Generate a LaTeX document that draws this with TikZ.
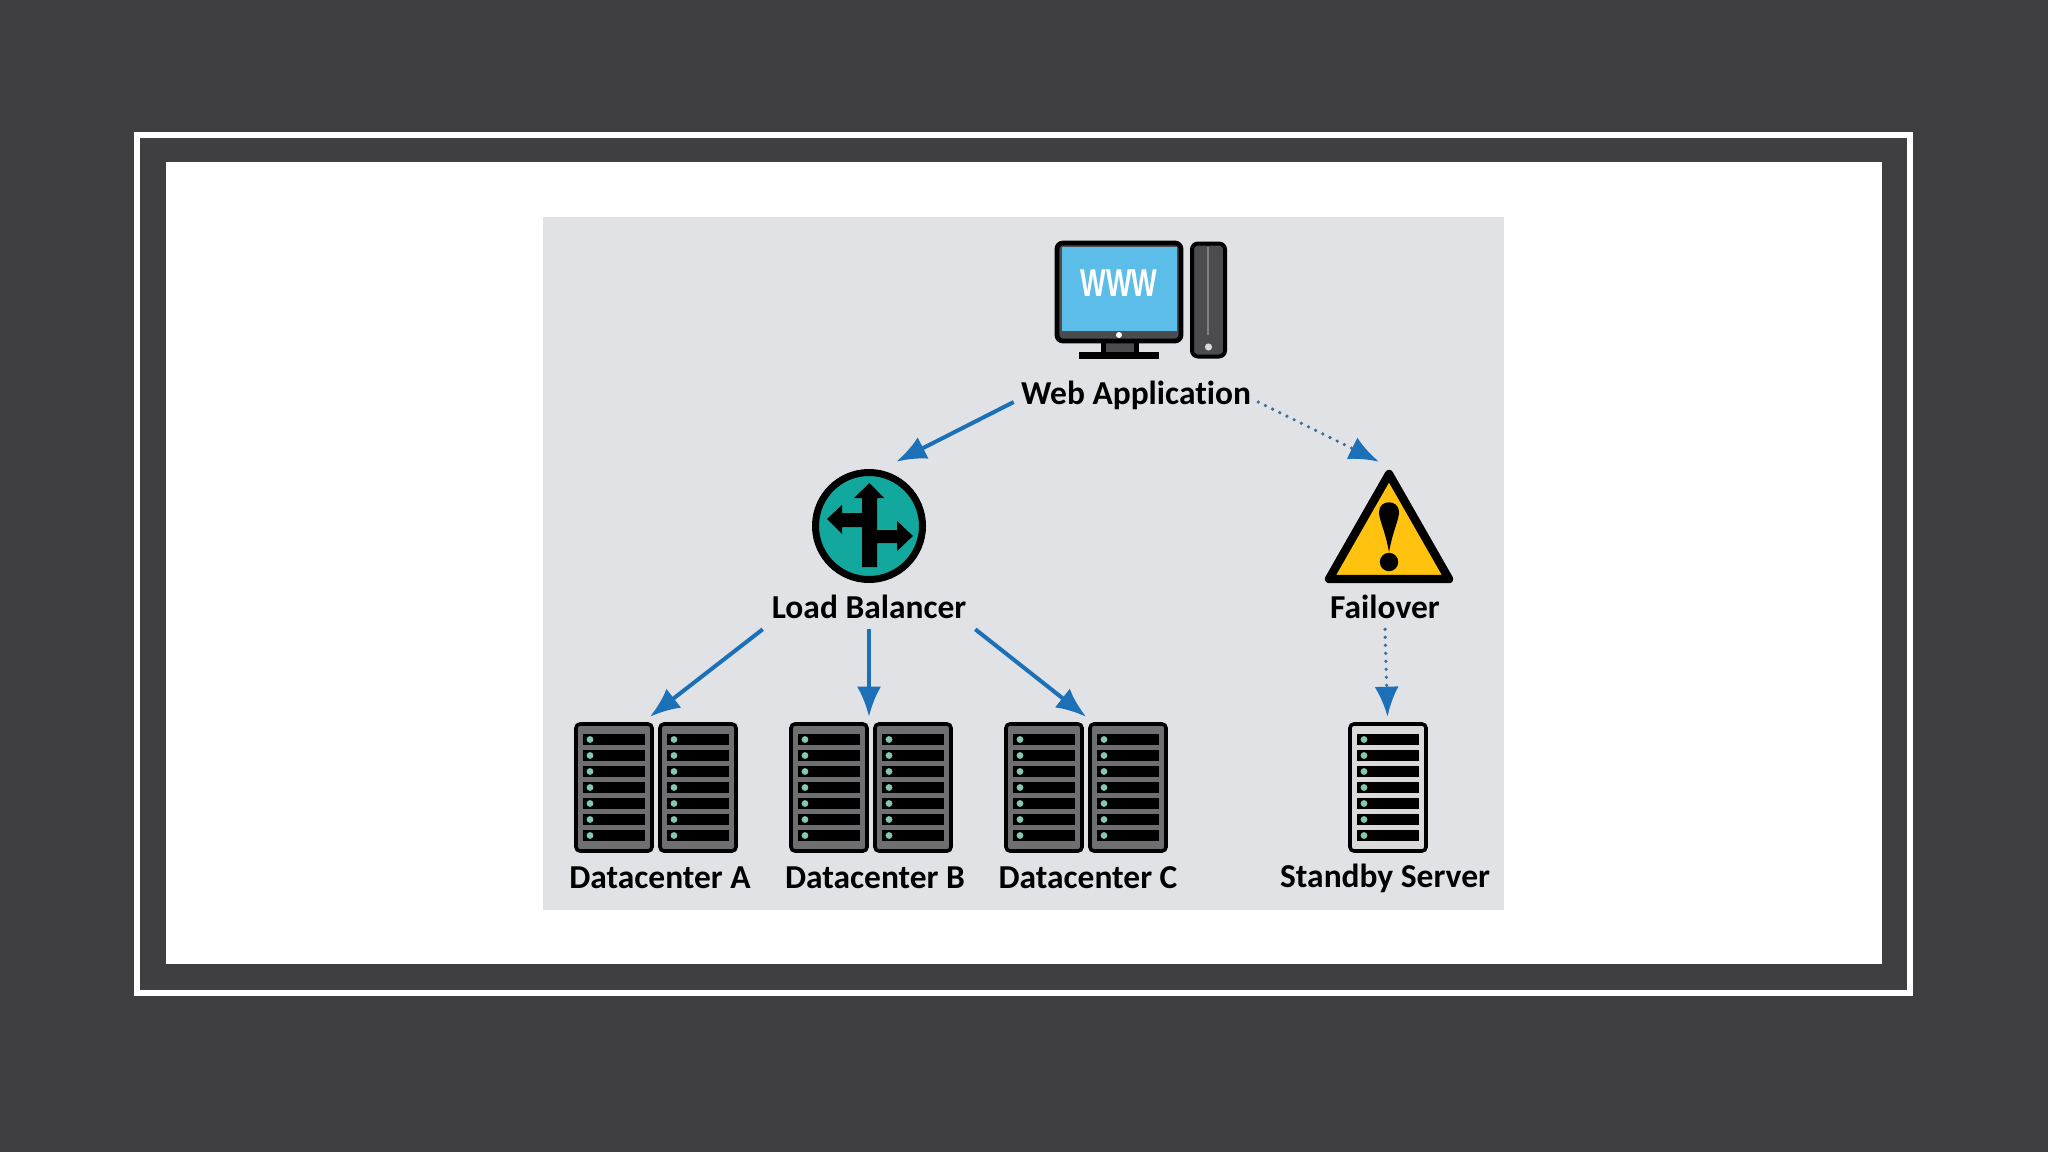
\documentclass[tikz,border=0pt]{standalone}
\usepackage{fontspec}
\setmainfont{Carlito}[Ligatures=NoCommon]
\newfontfamily\wwwfont{Liberation Sans}
\usetikzlibrary{calc}
\usetikzlibrary{arrows.meta}
\definecolor{pagedark}{HTML}{3F3F41}
\definecolor{panelgrey}{HTML}{E0E2E5}
\definecolor{flowblue}{HTML}{1B70B8}
\definecolor{dotblue}{HTML}{3C6F95}
\definecolor{screenblue}{HTML}{5CBDE9}
\definecolor{towergrey}{HTML}{4B4B50}
\definecolor{lbteal}{HTML}{12A89D}
\definecolor{warnyellow}{HTML}{FFC20E}
\definecolor{ledgreen}{HTML}{7FC9B5}
\definecolor{rackgrey}{HTML}{6F6F72}
\definecolor{standbygrey}{HTML}{DADADA}
% one rack: left edge, fill
\newcommand{\rackunit}[2]{
  \draw[black,line width=.9mm,fill=#2,rounded corners=1mm] ($(#1,724)+(1,0)$) rectangle ++(76,127);
  \foreach \slot in {0,...,6}{
    \fill[black] ($(#1,734)+(8,\slot*16)$) rectangle ++(62,11);
    \fill[ledgreen] ($(#1,739.5)+(15,\slot*16)$) circle (.85mm);
  }
}
\begin{document}
\begin{tikzpicture}[x=.25mm,y=-.25mm]
\tikzstyle{label}=[font=\fontsize{23.8}{26}\selectfont\bfseries, text=black, inner sep=0pt]
\tikzstyle{flow}=[flowblue, line width=1mm, -{Latex[length=7.5mm,width=6mm]}]
\tikzstyle{standby}=[draw=dotblue, line width=.9mm, line cap=round, dash pattern=on 0mm off 2mm, -{Latex[flowblue,length=7.5mm,width=6mm]}]
\tikzstyle{group}=[minimum width=40.5mm, minimum height=35.25mm, inner sep=0pt]
\useasboundingbox (0,0) rectangle (2048,1152);
% Page and frame
\fill[pagedark] (0,0) rectangle (2048,1152);
\draw[white,line width=1.4mm] (137,135) rectangle (1910,993);
\fill[white] (166,162) rectangle (1882,964);
\fill[panelgrey] (543,217) rectangle (1504,910);

% Web application: monitor and tower
\fill[black] (1101,340) rectangle (1139,354);
\fill[towergrey] (1106,343) rectangle (1134,354);
\draw[black,line width=.7mm,fill=black] (1080,353.5) rectangle (1158,357.5);
\draw[black,line width=1.2mm,fill=towergrey,rounded corners=1.5mm] (1057,243) rectangle (1181,341);
\fill[screenblue] (1062,247) rectangle (1177,331);
\fill[white] (1119,335) circle (.75mm);
\node (www) at (1119,283) [text=white, inner sep=0pt] {\scalebox{.7}[1]{\fontsize{27.6}{28}\selectfont\wwwfont\bfseries WWW}};
\draw[black,line width=1mm,fill=towergrey,rounded corners=1.5mm] (1192,243.5) rectangle (1225,356.5);
\draw[gray,line width=.4mm] (1208,247) -- (1208,335);
\fill[white!85!black] (1208.5,347) circle (.9mm);
\node[label] (lblWeb) at (1136,395) [minimum width=61mm, minimum height=10mm] {Web Application};

% Load balancer
\node (iconLb) at (869,526) [circle, draw=black, fill=lbteal, line width=1.75mm, minimum size=26.75mm, inner sep=0pt, outer sep=4.1mm] {};
\fill[black] (862,567) -- (877,567) -- (877,543) -- (897,543) -- (897,551) -- (913,536) -- (897,521) -- (897,530) -- (877,530) -- (877,498) -- (884,498) -- (869.5,483) -- (854,498) -- (862,498) -- (862,513) -- (842,513) -- (842,505) -- (827,519) -- (842,534) -- (842,527) -- (862,527) -- cycle;
\node[label] (lblLb) at (869,607) [minimum width=53mm, minimum height=11mm] {Load Balancer};

% Failover
\node (iconFail) at (1389,528) [minimum width=32mm, minimum height=33mm, inner sep=0pt] {};
\draw[black,fill=warnyellow,line width=2.1mm,line join=round] (1389,474) -- (1449,579) -- (1329,579) -- cycle;
\fill[black] (1389,552) .. controls (1385,530) and (1379,520) .. (1379,512) .. controls (1379,499) and (1399,499) .. (1399,512) .. controls (1399,520) and (1393,530) .. (1389,552) -- cycle;
\fill[black] (1389,562) circle (2.3mm);
\node[label] (lblFail) at (1385,607) [minimum width=27mm, minimum height=11mm] {Failover};

% Datacenters
\node[group] (rackA) at (656,787.5) {};
\node[group] (rackB) at (871,787.5) {};
\node[group] (rackC) at (1086,787.5) {};
\foreach \rackx in {575,659,790,874,1005,1089}{
  \rackunit{\rackx}{rackgrey}
}
\node[label] (lblA) at (660,878) {Datacenter A};
\node[label] (lblB) at (875,878) {Datacenter B};
\node[label] (lblC) at (1088,878) {Datacenter C};

% Standby server
\node (rackS) at (1387.5,787.5) [minimum width=19.5mm, minimum height=35.25mm, inner sep=0pt] {};
\rackunit{1349}{standbygrey}
\node[label] (lblS) at (1385,878) {Standby Server};

% Arrows
\draw[flow] ($(lblWeb.west)+(0,7)$) -- (iconLb.67);
\draw[standby] ($(lblWeb.east)+(0,7)$) -- ($(iconFail.north)+(-10,0)$);
\draw[flow] (lblLb.south west) -- ($(rackA.north)+(-6,0)$);
\draw[flow] (lblLb.south) -- ($(rackB.north)+(-2,0)$);
\draw[flow] (lblLb.south east) -- (rackC.north);
\draw[standby] (lblFail.south) -- (rackS.north);
\end{tikzpicture}
\end{document}
